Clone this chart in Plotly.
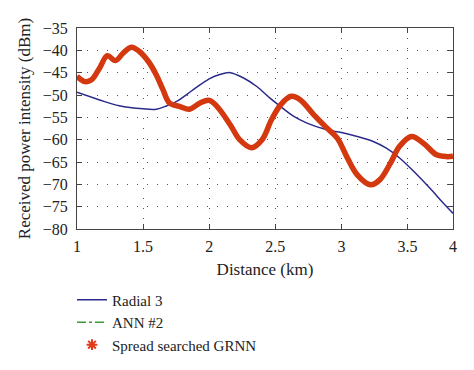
import plotly.graph_objects as go

# Tick positions on the drawn axis (last label "4" sits at the right frame)
x_tick_vals = [1, 1.5, 2, 2.5, 3, 3.5, 3.844]
x_tick_text = ["1", "1.5", "2", "2.5", "3", "3.5", "4"]
y_tick_vals = [-35, -40, -45, -50, -55, -60, -65, -70, -75, -80]

# Radial 3
radial_x = [1.0, 1.17, 1.32, 1.5, 1.6, 1.68, 1.75, 1.88, 2.0, 2.08, 2.16, 2.26, 2.36,
            2.46, 2.54, 2.64, 2.74, 2.89, 3.0, 3.12, 3.24, 3.34, 3.44, 3.55, 3.67, 3.77, 3.844]
radial_y = [-49.4, -51.1, -52.4, -53.1, -53.2, -52.4, -51.5, -48.8, -46.4, -45.4, -45.0, -46.2, -48.1,
            -50.7, -52.6, -54.8, -56.3, -57.8, -58.4, -59.3, -60.4, -61.9, -64.1, -67.2, -70.9, -74.2, -76.5]

# Spread searched GRNN
grnn_x = [1.0, 1.06, 1.11, 1.17, 1.23, 1.29, 1.35, 1.41, 1.47, 1.54, 1.60, 1.65, 1.70, 1.78,
          1.85, 1.93, 2.0, 2.06, 2.16, 2.23, 2.32, 2.40, 2.47, 2.54, 2.62, 2.69, 2.79, 2.89,
          2.97, 3.04, 3.12, 3.22, 3.29, 3.37, 3.44, 3.53, 3.62, 3.72, 3.80, 3.844]
grnn_y = [-45.8, -47.0, -46.6, -44.0, -41.2, -42.3, -40.6, -39.3, -40.2, -42.5, -45.5, -48.8, -51.8, -52.6,
          -53.2, -51.8, -51.2, -52.6, -56.7, -60.0, -61.8, -60.0, -55.6, -52.2, -50.3, -51.1, -54.4, -57.4,
          -59.7, -63.8, -67.9, -70.1, -69.0, -65.3, -61.5, -59.3, -60.8, -63.4, -63.8, -63.7]

FONT = "Liberation Serif"
BLUE = "#2b2b8c"
RED = "#d4380f"

fig = go.Figure()
fig.add_trace(go.Scatter(x=radial_x, y=radial_y, mode="lines", name="Radial 3",
                         line=dict(color=BLUE, width=1.5, shape="spline", smoothing=1)))
fig.add_trace(go.Scatter(x=[None], y=[None], mode="lines", name="ANN #2",
                         line=dict(color="#3a9a3a", width=1.5, dash="dashdot")))
fig.add_trace(go.Scatter(x=grnn_x, y=grnn_y, mode="lines", showlegend=False,
                         line=dict(color=RED, width=5.5, shape="spline", smoothing=1)))
fig.add_trace(go.Scatter(x=[None], y=[None], mode="markers", name="Spread searched GRNN",
                         marker=dict(symbol="asterisk-open", size=9, color="#e03a1a",
                                     line=dict(color="#e03a1a", width=2))))

axis_common = dict(
    showline=True, linecolor="#444", linewidth=1, mirror="ticks",
    ticks="inside", ticklen=5, tickcolor="#444",
    showgrid=True, gridcolor="#555", gridwidth=1, griddash="1px,9px",
    zeroline=False, tickfont=dict(family=FONT, size=16, color="#222"),
    automargin=True,
)

fig.update_xaxes(range=[1, 3.844], tickvals=x_tick_vals, ticktext=x_tick_text,
                 ticklabelstandoff=3,
                 title=dict(text="Distance (km)", font=dict(family=FONT, size=17, color="#222"), standoff=8),
                 **axis_common)
fig.update_yaxes(range=[-80, -35], tickvals=y_tick_vals, ticklabelstandoff=5,
                 title=dict(text="Received power intensity (dBm)", font=dict(family=FONT, size=17, color="#222"), standoff=7),
                 **axis_common)

fig.update_layout(
    width=474, height=370,
    margin=dict(l=77, r=21, t=28, b=141, autoexpand=False),
    paper_bgcolor="white", plot_bgcolor="white",
    font=dict(family=FONT, size=16, color="#222"),
    legend=dict(x=-0.0133, y=-0.465, xanchor="left", yanchor="middle",
                font=dict(family=FONT, size=15, color="#222"),
                bgcolor="rgba(0,0,0,0)", tracegroupgap=0, itemwidth=30),
    showlegend=True,
)

fig.write_html("out.html", config={"displayModeBar": False},
               post_script="document.body.style.margin='0';")
